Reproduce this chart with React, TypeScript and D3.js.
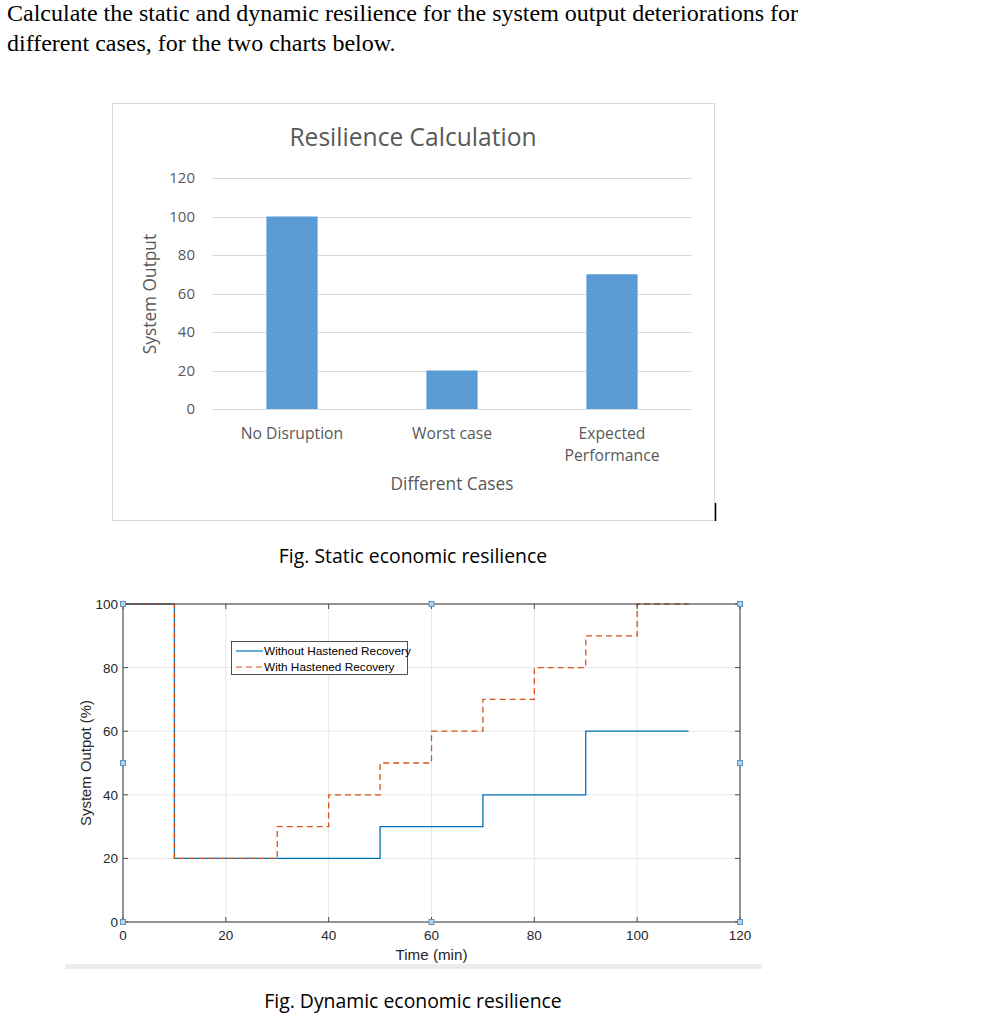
import { useRef, useEffect } from 'react'
import * as d3 from 'd3'

// static chart
const caseNames = ['No Disruption', 'Worst case', 'Expected Performance']
const caseValues = [100, 20, 70]
const barTicks = [0, 20, 40, 60, 80, 100, 120]

// dynamic chart
const timeWithout = [0, 10, 50, 70, 90, 110]
const outputWithout = [100, 20, 30, 40, 60, 60]
const timeWith = [0, 10, 30, 40, 50, 60, 70, 80, 90, 100, 110]
const outputWith = [100, 20, 30, 40, 50, 60, 70, 80, 90, 100, 100]
const timeTicks = [0, 20, 40, 60, 80, 100, 120]
const outputTicks = [0, 20, 40, 60, 80, 100]
const seriesNames = ['Without Hastened Recovery', 'With Hastened Recovery']

const W = 989
const H = 1024

export default function App() {
  const svgRef = useRef<SVGSVGElement>(null)

  useEffect(() => {
    const svg = d3.select(svgRef.current)
    svg.selectAll('*').remove()

    // Question text
    const q = svg.append('g')
      .attr('font-family', '"Liberation Serif", "Times New Roman", serif')
      .attr('font-size', 24)
      .attr('fill', '#000')
    q.append('text').attr('x', 7).attr('y', 21)
      .text('Calculate the static and dynamic resilience for the system output deteriorations for')
    q.append('text').attr('x', 7).attr('y', 51)
      .text('different cases, for the two charts below.')

    // ---------- Static chart (Excel style) ----------
    const sans = '"Open Sans", "Noto Sans", sans-serif'
    const txt = '#595959'
    svg.append('rect')
      .attr('x', 112.5).attr('y', 103.5)
      .attr('width', 602).attr('height', 417)
      .attr('fill', '#fff').attr('stroke', '#d9d9d9')

    const x = d3.scaleBand()
      .domain(caseNames)
      .range([212, 692])
      .paddingInner(0.68)
      .paddingOuter(0.34)
    const y = d3.scaleLinear().domain([0, 120]).range([409, 178])

    const g1 = svg.append('g').attr('font-family', sans)

    g1.selectAll('.grid')
      .data(barTicks)
      .enter()
      .append('line')
      .attr('x1', 212).attr('x2', 692)
      .attr('y1', d => Math.round(y(d)) + 0.5)
      .attr('y2', d => Math.round(y(d)) + 0.5)
      .attr('stroke', '#d9d9d9')

    g1.selectAll('.ytick')
      .data(barTicks)
      .enter()
      .append('text')
      .attr('x', 195)
      .attr('y', d => y(d) + 5)
      .attr('text-anchor', 'end')
      .attr('font-size', 15)
      .attr('fill', txt)
      .text(d => d)

    g1.selectAll('.bar')
      .data(caseNames)
      .enter()
      .append('rect')
      .attr('x', d => x(d)!)
      .attr('y', (_, i) => y(caseValues[i]))
      .attr('width', x.bandwidth())
      .attr('height', (_, i) => y(0) - y(caseValues[i]))
      .attr('fill', '#5b9bd5')

    caseNames.forEach(name => {
      const words = name === 'Expected Performance' ? ['Expected', 'Performance'] : [name]
      words.forEach((w, j) => {
        g1.append('text')
          .attr('x', x(name)! + x.bandwidth() / 2)
          .attr('y', 439 + j * 22)
          .attr('text-anchor', 'middle')
          .attr('font-size', 15.7)
          .attr('fill', txt)
          .text(w)
      })
    })

    g1.append('text')
      .attr('x', 413).attr('y', 146)
      .attr('text-anchor', 'middle')
      .attr('font-size', 24.6)
      .attr('fill', txt)
      .text('Resilience Calculation')

    g1.append('text')
      .attr('x', 452).attr('y', 490)
      .attr('text-anchor', 'middle')
      .attr('font-size', 17.3)
      .attr('fill', txt)
      .text('Different Cases')

    g1.append('text')
      .attr('transform', 'translate(156,294) rotate(-90)')
      .attr('text-anchor', 'middle')
      .attr('font-size', 17.3)
      .attr('fill', txt)
      .text('System Output')

    // cursor mark
    svg.append('line')
      .attr('x1', 715.5).attr('x2', 715.5)
      .attr('y1', 503).attr('y2', 521)
      .attr('stroke', '#000').attr('stroke-width', 1.5)

    svg.append('text')
      .attr('x', 413).attr('y', 563)
      .attr('text-anchor', 'middle')
      .attr('font-family', sans)
      .attr('font-size', 19.4)
      .attr('fill', '#000')
      .text('Fig. Static economic resilience')

    // ---------- Dynamic chart (MATLAB style) ----------
    const helv = '"Liberation Sans", Arial, Helvetica, sans-serif'
    const tx = d3.scaleLinear().domain([0, 120]).range([123, 740])
    const ty = d3.scaleLinear().domain([0, 100]).range([922, 604])
    const g2 = svg.append('g').attr('font-family', helv)

    // grid
    g2.selectAll('.vgrid')
      .data(timeTicks.slice(1, -1))
      .enter()
      .append('line')
      .attr('x1', d => tx(d)).attr('x2', d => tx(d))
      .attr('y1', ty(0)).attr('y2', ty(100))
      .attr('stroke', '#e6e6e6')
    g2.selectAll('.hgrid')
      .data(outputTicks.slice(1, -1))
      .enter()
      .append('line')
      .attr('x1', tx(0)).attr('x2', tx(120))
      .attr('y1', d => ty(d)).attr('y2', d => ty(d))
      .attr('stroke', '#e6e6e6')

    // lines
    const step = d3.line<[number, number]>()
      .x(d => tx(d[0]))
      .y(d => ty(d[1]))
      .curve(d3.curveStepAfter)

    g2.append('path')
      .datum(timeWithout.map((t, i) => [t, outputWithout[i]] as [number, number]))
      .attr('fill', 'none')
      .attr('stroke', '#0072bd')
      .attr('stroke-width', 1.3)
      .attr('d', step)

    g2.append('path')
      .datum(timeWith.map((t, i) => [t, outputWith[i]] as [number, number]))
      .attr('fill', 'none')
      .attr('stroke', '#d95319')
      .attr('stroke-width', 1.3)
      .attr('stroke-dasharray', '6,4')
      .attr('d', step)

    // box + ticks
    const axisCol = '#4d4d4d'
    g2.append('rect')
      .attr('x', tx(0)).attr('y', ty(100))
      .attr('width', tx(120) - tx(0)).attr('height', ty(0) - ty(100))
      .attr('fill', 'none')
      .attr('stroke', axisCol)
      .attr('stroke-width', 1.2)

    timeTicks.forEach(t => {
      g2.append('line')
        .attr('x1', tx(t)).attr('x2', tx(t))
        .attr('y1', ty(0)).attr('y2', ty(0) - 5)
        .attr('stroke', axisCol)
      g2.append('line')
        .attr('x1', tx(t)).attr('x2', tx(t))
        .attr('y1', ty(100)).attr('y2', ty(100) + 5)
        .attr('stroke', axisCol)
      g2.append('text')
        .attr('x', tx(t)).attr('y', 940)
        .attr('text-anchor', 'middle')
        .attr('font-size', 13.5)
        .attr('fill', '#262626')
        .text(t)
    })
    outputTicks.forEach(v => {
      g2.append('line')
        .attr('x1', tx(0)).attr('x2', tx(0) + 5)
        .attr('y1', ty(v)).attr('y2', ty(v))
        .attr('stroke', axisCol)
      g2.append('line')
        .attr('x1', tx(120)).attr('x2', tx(120) - 5)
        .attr('y1', ty(v)).attr('y2', ty(v))
        .attr('stroke', axisCol)
      g2.append('text')
        .attr('x', 118).attr('y', ty(v) + 5)
        .attr('text-anchor', 'end')
        .attr('font-size', 13.5)
        .attr('fill', '#262626')
        .text(v)
    })

    g2.append('text')
      .attr('x', tx(60)).attr('y', 960)
      .attr('text-anchor', 'middle')
      .attr('font-size', 15.2)
      .attr('fill', '#262626')
      .text('Time (min)')
    g2.append('text')
      .attr('transform', `translate(91,${ty(50)}) rotate(-90)`)
      .attr('text-anchor', 'middle')
      .attr('font-size', 14.9)
      .attr('fill', '#262626')
      .text('System Outpot (%)')

    // selection handles
    const handles: [number, number][] = [
      [0, 100], [60, 100], [120, 100], [0, 50], [120, 50], [0, 0], [60, 0], [120, 0]
    ]
    g2.selectAll('.handle')
      .data(handles)
      .enter()
      .append('rect')
      .attr('x', d => tx(d[0]) - 2.5)
      .attr('y', d => ty(d[1]) - 2.5)
      .attr('width', 5).attr('height', 5)
      .attr('fill', '#b4d2ec')
      .attr('stroke', '#5b93c7')

    // legend
    const lg = g2.append('g')
    lg.append('rect')
      .attr('x', 231.5).attr('y', 641.5)
      .attr('width', 176).attr('height', 33)
      .attr('fill', '#fff')
      .attr('stroke', '#262626')
      .attr('stroke-width', 0.8)
    const legendStyles = [
      { color: '#0072bd', dash: null },
      { color: '#d95319', dash: '6,4' }
    ]
    seriesNames.forEach((name, i) => {
      const ly = 651 + i * 16
      lg.append('line')
        .attr('x1', 236).attr('x2', 263)
        .attr('y1', ly).attr('y2', ly)
        .attr('stroke', legendStyles[i].color)
        .attr('stroke-width', 1.2)
        .attr('stroke-dasharray', legendStyles[i].dash)
      lg.append('text')
        .attr('x', 264).attr('y', ly + 4)
        .attr('font-size', 11.8)
        .attr('fill', '#000')
        .text(name)
    })

    // grey strip under figure
    svg.append('rect')
      .attr('x', 65).attr('y', 964)
      .attr('width', 697).attr('height', 5)
      .attr('fill', '#ececec')

    svg.append('text')
      .attr('x', 413).attr('y', 1008)
      .attr('text-anchor', 'middle')
      .attr('font-family', sans)
      .attr('font-size', 19.4)
      .attr('fill', '#000')
      .text('Fig. Dynamic economic resilience')
  }, [])

  return (
    <div style={{ position: 'absolute', left: 0, top: 0, width: W, height: H, background: '#fff' }}>
      <svg ref={svgRef} width={W} height={H} style={{ display: 'block' }} />
    </div>
  )
}
